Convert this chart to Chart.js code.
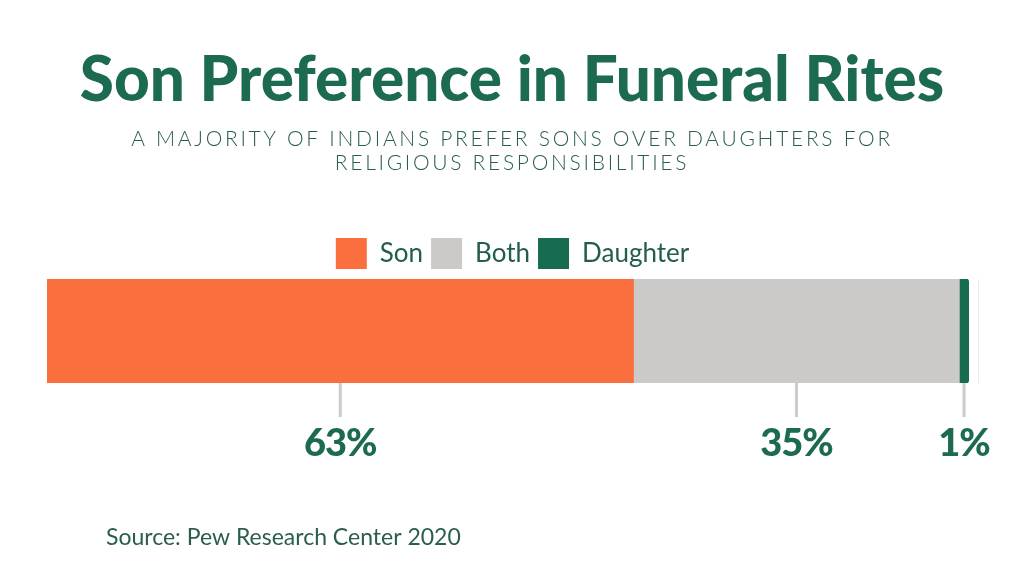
<!DOCTYPE html>
<html>
<head>
<meta charset="utf-8">
<script src="https://cdn.jsdelivr.net/npm/chart.js@4"></script>
<style>
  html, body { margin: 0; padding: 0; background: #fff; }
  #wrap { width: 1024px; height: 580px; position: relative; }
</style>
</head>
<body>
<div id="wrap"><canvas id="barChart" width="1024" height="580"></canvas></div>
<script>
const categories = ["India"];
const seriesNames = ["Son", "Both", "Daughter"];
const sonValues = [63];
const bothValues = [35];
const daughterValues = [1];
const valueLabels = ["63%", "35%", "1%"];

const GREEN = "#1b6a51";
const colors = ["#fb6e3e", "#cccac8", "#176b50"];

const ctx = document.getElementById("barChart").getContext("2d");

// Title, subtitle, source and the labels under each segment
const annotations = {
  id: "annotations",
  afterDraw(chart) {
    const { ctx } = chart;
    const x = chart.scales.x;
    const area = chart.chartArea;
    ctx.save();

    // title
    ctx.textAlign = "center";
    ctx.textBaseline = "alphabetic";
    ctx.fillStyle = GREEN;
    ctx.font = "900 62px Lato";
    ctx.fillText("Son Preference in Funeral Rites", 512, 101);

    // subtitle
    ctx.fillStyle = "#2b5e50";
    ctx.font = "300 21px Lato";
    ctx.letterSpacing = "2.7px";
    ctx.fillText("A MAJORITY OF INDIANS PREFER SONS OVER DAUGHTERS FOR", 512, 146);
    ctx.fillText("RELIGIOUS RESPONSIBILITIES", 512, 170);
    ctx.letterSpacing = "0px";

    // faint end marker at 100%
    ctx.strokeStyle = "#ececec";
    ctx.lineWidth = 1;
    ctx.beginPath();
    ctx.moveTo(x.getPixelForValue(100) + 0.5, area.top);
    ctx.lineTo(x.getPixelForValue(100) + 0.5, area.bottom);
    ctx.stroke();

    // leader lines + percent labels at segment centres
    let start = 0;
    chart.data.datasets.forEach((ds, i) => {
      const v = ds.data[0];
      const cx = x.getPixelForValue(start + v / 2);
      start += v;
      ctx.strokeStyle = "#cbcbcb";
      ctx.lineWidth = 3;
      ctx.beginPath();
      ctx.moveTo(cx, area.bottom);
      ctx.lineTo(cx, area.bottom + 34);
      ctx.stroke();
      ctx.fillStyle = GREEN;
      ctx.font = "900 38px Lato";
      ctx.letterSpacing = "-1px";
      ctx.textAlign = "center";
      ctx.fillText(valueLabels[i], cx, area.bottom + 73);
      ctx.letterSpacing = "0px";
    });

    // source
    ctx.textAlign = "left";
    ctx.fillStyle = "#2b5e50";
    ctx.font = "23px Lato";
    ctx.fillText("Source: Pew Research Center 2020", 106, 545);
    ctx.restore();
  },
};

new Chart(ctx, {
  type: "bar",
  data: {
    labels: categories,
    datasets: [
      { label: seriesNames[0], data: sonValues, backgroundColor: colors[0] },
      { label: seriesNames[1], data: bothValues, backgroundColor: colors[1] },
      {
        label: seriesNames[2],
        data: daughterValues,
        backgroundColor: colors[2],
        borderRadius: { topRight: 3, bottomRight: 3 },
        borderSkipped: false,
      },
    ],
  },
  options: {
    indexAxis: "y",
    responsive: false,
    animation: false,
    layout: { padding: { top: 230, left: 47, right: 46, bottom: 197 } },
    datasets: {
      bar: { barPercentage: 1, categoryPercentage: 1, borderWidth: 0 },
    },
    scales: {
      x: { stacked: true, min: 0, max: 100, display: false },
      y: { stacked: true, display: false },
    },
    plugins: {
      legend: {
        display: true,
        position: "top",
        labels: {
          boxWidth: 31,
          boxHeight: 31,
          padding: 8,
          color: "#245d4f",
          font: { family: "Lato", size: 26 },
        },
      },
      tooltip: { enabled: false },
    },
  },
  plugins: [annotations],
});
</script>
</body>
</html>
